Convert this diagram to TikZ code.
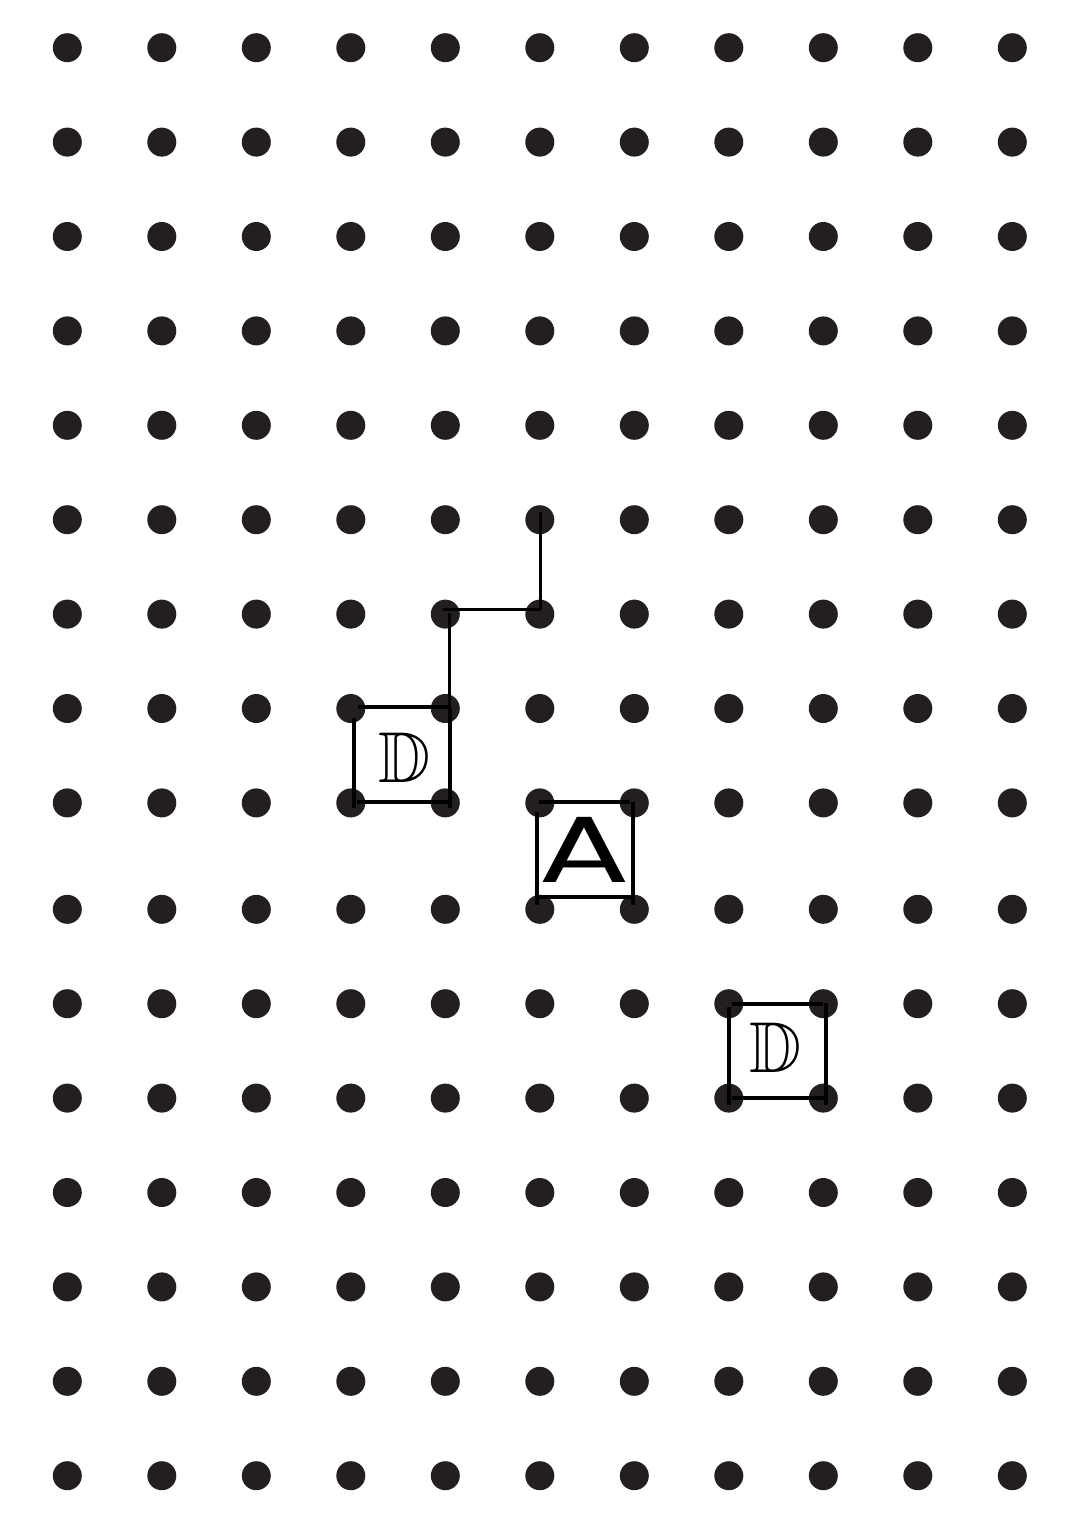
\documentclass[tikz,border=0pt]{standalone}
\usepackage{amssymb}
\usepackage{fontspec}
\newfontfamily\geofont{Poppins}
\definecolor{dotc}{HTML}{231F20}
\begin{document}
\begin{tikzpicture}[x=1pt,y=-1pt,
  gdot/.style={circle,fill=dotc,inner sep=0pt,minimum size=29pt},
  rule/.style={line width=3.2pt,black},
  dletter/.style={inner sep=0pt,font=\fontsize{72}{72}\selectfont},
  aletter/.style={inner sep=0pt,xscale=1.45,font=\geofont\fontsize{94}{94}\selectfont}]
\useasboundingbox (0,0) rectangle (1080,1528);
\fill[white] (0,0) rectangle (1080,1528);
% dot grid
\foreach \i in {0,...,10}{
  \foreach \j in {0,...,15}{
    \pgfmathsetmacro\xx{67.3+94.5*\i}
    \pgfmathsetmacro\yy{\j<9 ? 47.7+94.4*\j : 909.3+94.4*(\j-9)}
    \node[gdot] (d-\i-\j) at (\xx,\yy) {};
  }}
% path from top
\coordinate (p1) at (540.7,511.7);
\coordinate (p2) at (540.7,609.3);
\coordinate (p3) at (443,609.3);
\coordinate (p4) at (449.3,613);
\coordinate (p5) at (449.3,708);
\draw[rule] (p1) -- (p2);
\draw[rule] (p3) -- (p2);
\draw[rule] (p4) -- (p5);
% first D box
\coordinate (a1) at (358,707);   \coordinate (a2) at (449,707);
\coordinate (a3) at (354,718);   \coordinate (a4) at (354,808);
\coordinate (a5) at (357,802);   \coordinate (a6) at (450,802);
\coordinate (a7) at (450,708);   \coordinate (a8) at (450,808);
\draw[rule] (a1) -- (a2);
\draw[rule] (a3) -- (a4);
\draw[rule] (a5) -- (a6);
\draw[rule] (a7) -- (a8);
\node[dletter] (D1) at (404,757.5) {$\mathbb{D}$};
% A box
\coordinate (b1) at (539,802);   \coordinate (b2) at (630,802);
\coordinate (b3) at (537,812);   \coordinate (b4) at (537,905);
\coordinate (b5) at (633,802);   \coordinate (b6) at (633,905);
\coordinate (b7) at (538,897);   \coordinate (b8) at (632,897);
\draw[rule] (b1) -- (b2);
\draw[rule] (b3) -- (b4);
\draw[rule] (b5) -- (b6);
\draw[rule] (b7) -- (b8);
\node[aletter] (A1) at (584,850) {A};
% second D box
\coordinate (c1) at (732,1004);  \coordinate (c2) at (823,1004);
\coordinate (c3) at (729,1007);  \coordinate (c4) at (729,1105);
\coordinate (c5) at (826,1003);  \coordinate (c6) at (826,1105);
\coordinate (c7) at (732,1098);  \coordinate (c8) at (825,1098);
\draw[rule] (c1) -- (c2);
\draw[rule] (c3) -- (c4);
\draw[rule] (c5) -- (c6);
\draw[rule] (c7) -- (c8);
\node[dletter] (D2) at (775,1047.5) {$\mathbb{D}$};
\end{tikzpicture}
\end{document}
